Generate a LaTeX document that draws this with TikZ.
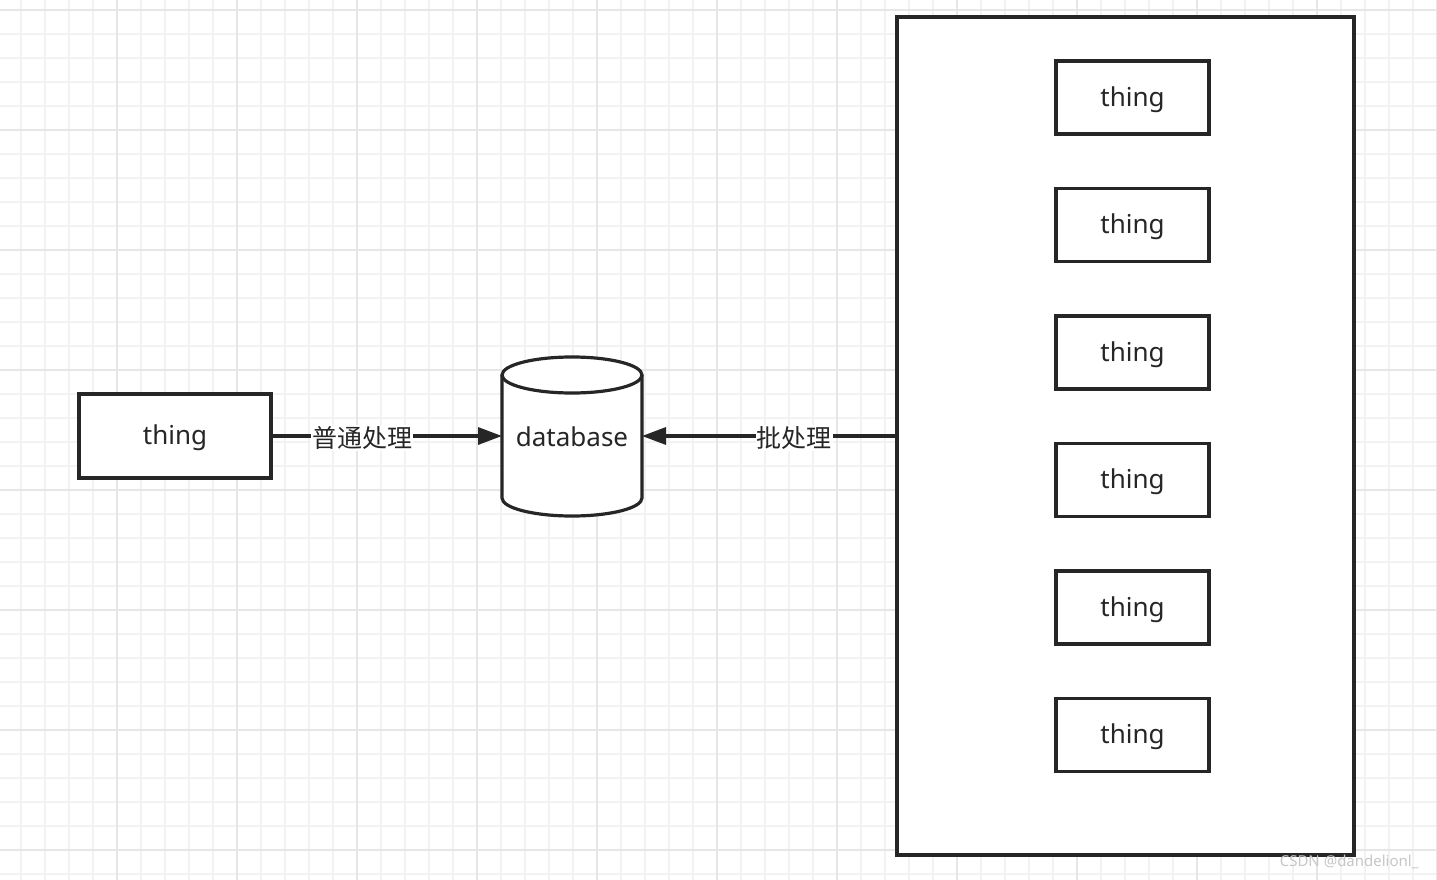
\documentclass[tikz,border=0pt]{standalone}
\usepackage{fontspec}
\setmainfont{Noto Sans}
\newfontfamily\cjk{Noto Sans CJK SC}
\usetikzlibrary{arrows.meta}
\definecolor{ink}{HTML}{262626}
\definecolor{gmin}{HTML}{F2F2F2}
\definecolor{gmaj}{HTML}{E6E6E6}
\begin{document}
\begin{tikzpicture}[x=1pt,y=-1pt,
  box/.style={draw=ink,line width=3.2pt,minimum width=153pt,minimum height=73pt,inner sep=0pt,font=\fontsize{26}{30}\selectfont,text=ink,text depth=2pt},
  lab/.style={fill=white,inner sep=1pt,font=\cjk\fontsize{25}{29}\selectfont,text=ink},
  arr/.style={draw=ink,line width=3.2pt,-{Triangle[length=24pt,width=17pt]}}]
\useasboundingbox (0,0) rectangle (1437,880);
\fill[white] (0,0) rectangle (1437,880);
\foreach \x in {21,45,...,1437} \draw[gmin,line width=1.2pt] (\x,0) -- (\x,880);
\foreach \y in {10,34,...,880} \draw[gmin,line width=1.2pt] (0,\y) -- (1437,\y);
\foreach \x in {117,237,...,1437} \draw[gmaj,line width=1.6pt] (\x,0) -- (\x,880);
\foreach \y in {10,130,...,880} \draw[gmaj,line width=1.6pt] (0,\y) -- (1437,\y);
% left thing
\node[box,fill=white,minimum width=192pt,minimum height=84pt] (src) at (175,436) {thing};
% database cylinder
\fill[white] (502,375) -- (502,498) arc[start angle=180,end angle=0,x radius=70,y radius=18] -- (642,375) arc[start angle=0,end angle=-180,x radius=70,y radius=18] -- cycle;
\draw[ink,line width=3.2pt] (502,375) -- (502,498) arc[start angle=180,end angle=0,x radius=70,y radius=18] -- (642,375);
\draw[ink,line width=3.2pt] (572,375) ellipse[x radius=70,y radius=18];
\coordinate (dbl) at (502,436);
\coordinate (dbr) at (642,436);
\node[font=\fontsize{26}{30}\selectfont,text=ink] (db) at (572,437) {database};
% big container
\node[draw=ink,fill=white,line width=3.2pt,minimum width=457pt,minimum height=838pt,inner sep=0pt] (grp) at (1125.5,436) {};
\foreach \i/\y in {1/97.5,2/225,3/352.5,4/480,5/607.5,6/735}
  \node[box,fill=white] (t\i) at (1132.5,\y) {thing};
% arrows
\draw[arr] (src.east) -- node[lab,pos=0.39,yshift=-2pt]{普通处理} (dbl);
\draw[arr] (grp.west) -- node[lab,pos=0.4,yshift=-2pt]{批处理} (dbr);
\node[font=\fontsize{15}{17}\selectfont,text=black!22,anchor=east] at (1422,862) {CSDN @dandelionl\_};
\end{tikzpicture}
\end{document}
